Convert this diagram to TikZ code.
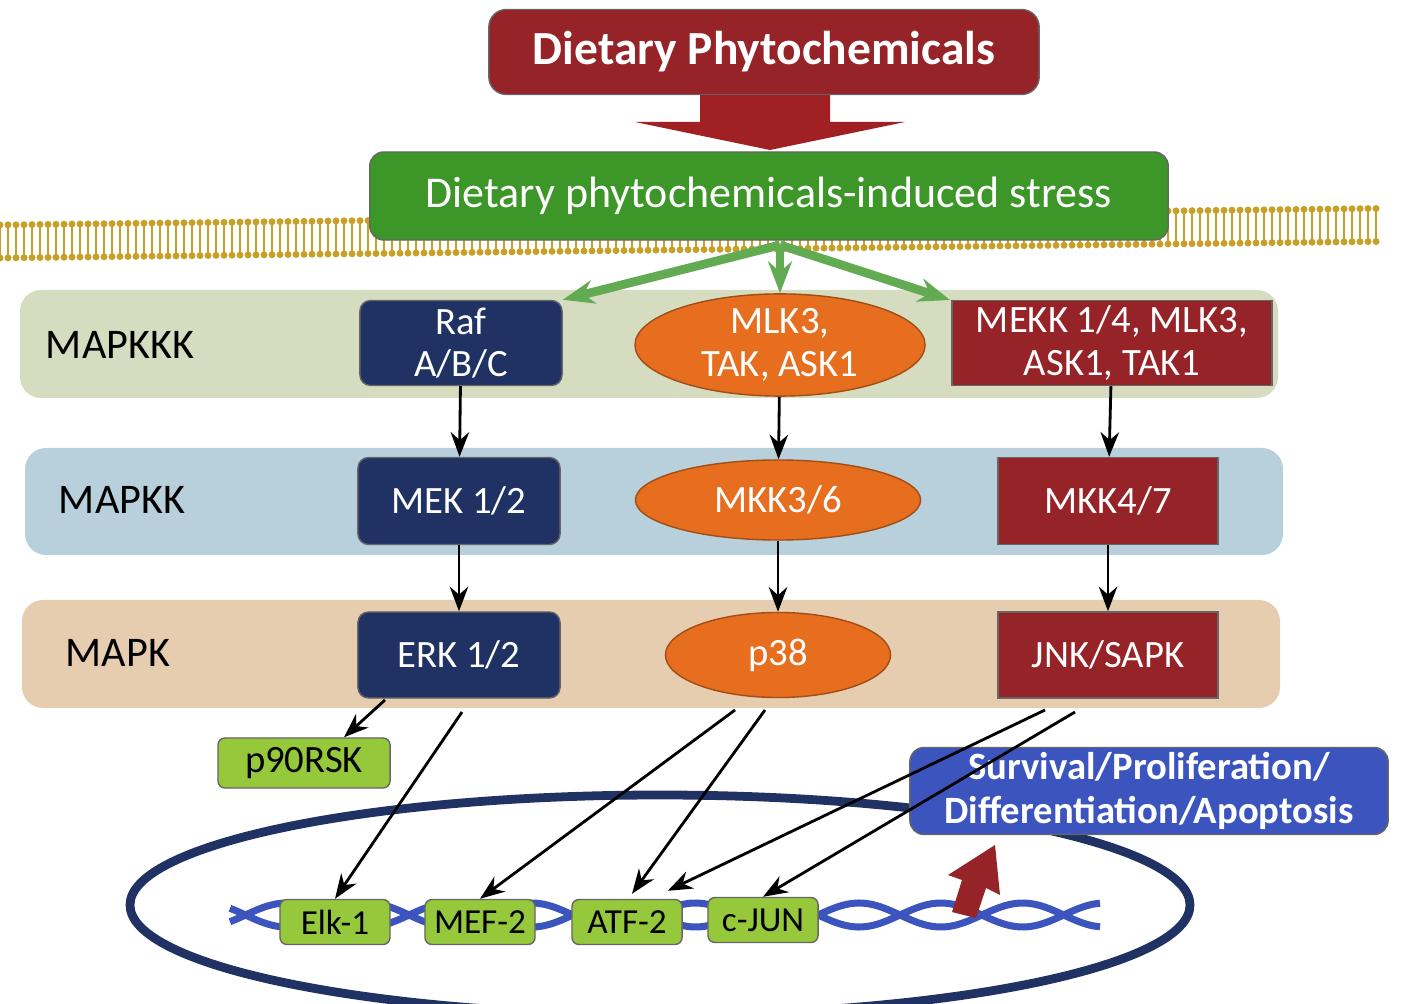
\documentclass[tikz,border=0pt]{standalone}
\usepackage{fontspec}
\setmainfont{Carlito}
\usetikzlibrary{positioning,shapes,arrows,calc,arrows.meta}
\definecolor{navy}{RGB}{31,50,99}
\definecolor{brick}{RGB}{150,35,40}
\definecolor{orng}{RGB}{230,110,30}
\definecolor{leaf}{RGB}{60,150,40}
\definecolor{lime}{RGB}{150,200,60}
\definecolor{gold}{RGB}{200,160,40}
\definecolor{sky}{RGB}{60,85,190}
\begin{document}
\begin{tikzpicture}[x=0.01cm,y=-0.01cm,
  band/.style={rounded corners=6pt,draw=none},
  kbox/.style={draw=black!60,fill=#1,text=white,font=\fontsize{11}{12}\selectfont,align=center,inner sep=0pt},
  oval/.style={ellipse,draw=orng!70!black,fill=orng,text=white,font=\fontsize{11}{12}\selectfont,align=center,inner sep=0pt},
  gene/.style={draw=black!60,fill=lime,rounded corners=2pt,font=\fontsize{10}{11}\selectfont,inner sep=0pt,minimum height=0.45cm},
  sig/.style={-{Stealth[length=7pt]},thick,black}]
\useasboundingbox (0,0) rectangle (1407,1004);
% membrane
\foreach \x in {0,8,...,1380}{
  \fill[gold] (\x,{225-0.012*\x}) circle (3.5);
  \fill[gold] (\x,{258-0.012*\x}) circle (3.5);
  \draw[gold,thick] (\x,{228-0.012*\x}) -- (\x,{255-0.012*\x});}
% bands
\fill[band,fill={rgb,255:red,214;green,220;blue,192}] (20,290) rectangle (1278,398);
\fill[band,fill={rgb,255:red,183;green,208;blue,220}] (25,448) rectangle (1283,555);
\fill[band,fill={rgb,255:red,230;green,205;blue,176}] (22,600) rectangle (1280,708);
\node[font=\fontsize{12}{13}\selectfont] (lkkk) at (120,345) {MAPKKK};
\node[font=\fontsize{12}{13}\selectfont] (lkk) at (122,500) {MAPKK};
\node[font=\fontsize{12}{13}\selectfont] (lk) at (118,653) {MAPK};
% top
\node[kbox=brick,rounded corners=5pt,minimum width=5.5cm,minimum height=0.85cm,font=\bfseries\fontsize{13.5}{15}\selectfont] (diet) at (764,52) {Dietary Phytochemicals};
\node[kbox=leaf,rounded corners=4pt,minimum width=7.98cm,minimum height=0.88cm,font=\fontsize{12.5}{13}\selectfont] (stress) at (769,196) {Dietary phytochemicals-induced stress};
\fill[brick!90!red] (700,95) -- (830,95) -- (830,122) -- (905,122) -- (770,150) -- (635,122) -- (700,122) -- cycle;
% kinases
\node[kbox=navy,rounded corners=3pt,minimum width=2.02cm,minimum height=0.85cm] (raf) at (461,343) {Raf\\A/B/C};
\node[oval,minimum width=2.9cm,minimum height=0.9cm] (mlk) at (780,345) {MLK3,\\TAK, ASK1};
\node[kbox=brick,minimum width=3.2cm,minimum height=0.85cm] (mekk) at (1112,343) {MEKK 1/4, MLK3,\\ASK1, TAK1};
\node[kbox=navy,rounded corners=3pt,minimum width=2.02cm,minimum height=0.87cm] (mek) at (459,501) {MEK 1/2};
\node[oval,minimum width=2.85cm,minimum height=0.8cm] (mkk36) at (778,500) {MKK3/6};
\node[kbox=brick,minimum width=2.2cm,minimum height=0.87cm] (mkk47) at (1108,501) {MKK4/7};
\node[kbox=navy,rounded corners=3pt,minimum width=2.02cm,minimum height=0.86cm] (erk) at (459,655) {ERK 1/2};
\node[oval,minimum width=2.25cm,minimum height=0.85cm] (p38) at (778,655) {p38};
\node[kbox=brick,minimum width=2.2cm,minimum height=0.86cm] (jnk) at (1108,655) {JNK/SAPK};
\foreach \a/\b in {raf/mek,mlk/mkk36,mekk/mkk47,mek/erk,mkk36/p38,mkk47/jnk}
  \draw[sig] (\a) -- (\b);
\draw[-{Stealth[length=9pt]},leaf!80!white,line width=2.5pt] (780,245) -- (raf.north east);
\draw[-{Stealth[length=9pt]},leaf!80!white,line width=2.5pt] (780,245) -- (mlk.north);
\draw[-{Stealth[length=9pt]},leaf!80!white,line width=2.5pt] (780,245) -- (950,300);
% nucleus
\draw[navy,line width=2.5pt] (660,905) ellipse (530 and 110);
\foreach \ph in {0,180}
  \draw[sky,line width=2pt,domain=230:1100,samples=120,smooth] plot (\x,{915+12*sin(\x*2.2+\ph)});
\node[gene,minimum width=1.1cm] (elk) at (335,922) {Elk-1};
\node[gene,minimum width=1.1cm] (mef) at (480,922) {MEF-2};
\node[gene,minimum width=1.1cm] (atf) at (627,922) {ATF-2};
\node[gene,minimum width=1.1cm] (cjun) at (763,920) {c-JUN};
\node[gene,minimum width=1.72cm,minimum height=0.5cm,font=\fontsize{11}{12}\selectfont] (rsk) at (304,763) {p90RSK};
\node[kbox=sky,rounded corners=4pt,minimum width=4.78cm,minimum height=0.87cm,font=\bfseries\fontsize{11}{12.5}\selectfont] (fate) at (1149,791) {Survival/Proliferation/\\Differentiation/Apoptosis};
\fill[brick] (952,912) -- (962,880) -- (948,875) -- (995,845) -- (1000,895) -- (986,888) -- (976,918) -- cycle;
% targets
\coordinate (e1) at (385,700); \coordinate (e2) at (462,712);
\coordinate (q1) at (735,710); \coordinate (q2) at (765,710);
\coordinate (j1) at (1045,710); \coordinate (j2) at (1075,712);
\draw[sig] (e1) -- ($(rsk.north)+(40,0)$);
\draw[sig] (e2) -- (elk.north);
\draw[sig] (q1) -- (mef.north);
\draw[sig] (q2) -- ($(atf.north)+(5,-5)$);
\draw[sig] (j1) -- ($(atf.north east)+(-15,-8)$);
\draw[sig] (j2) -- (cjun.north);
\end{tikzpicture}
\end{document}
